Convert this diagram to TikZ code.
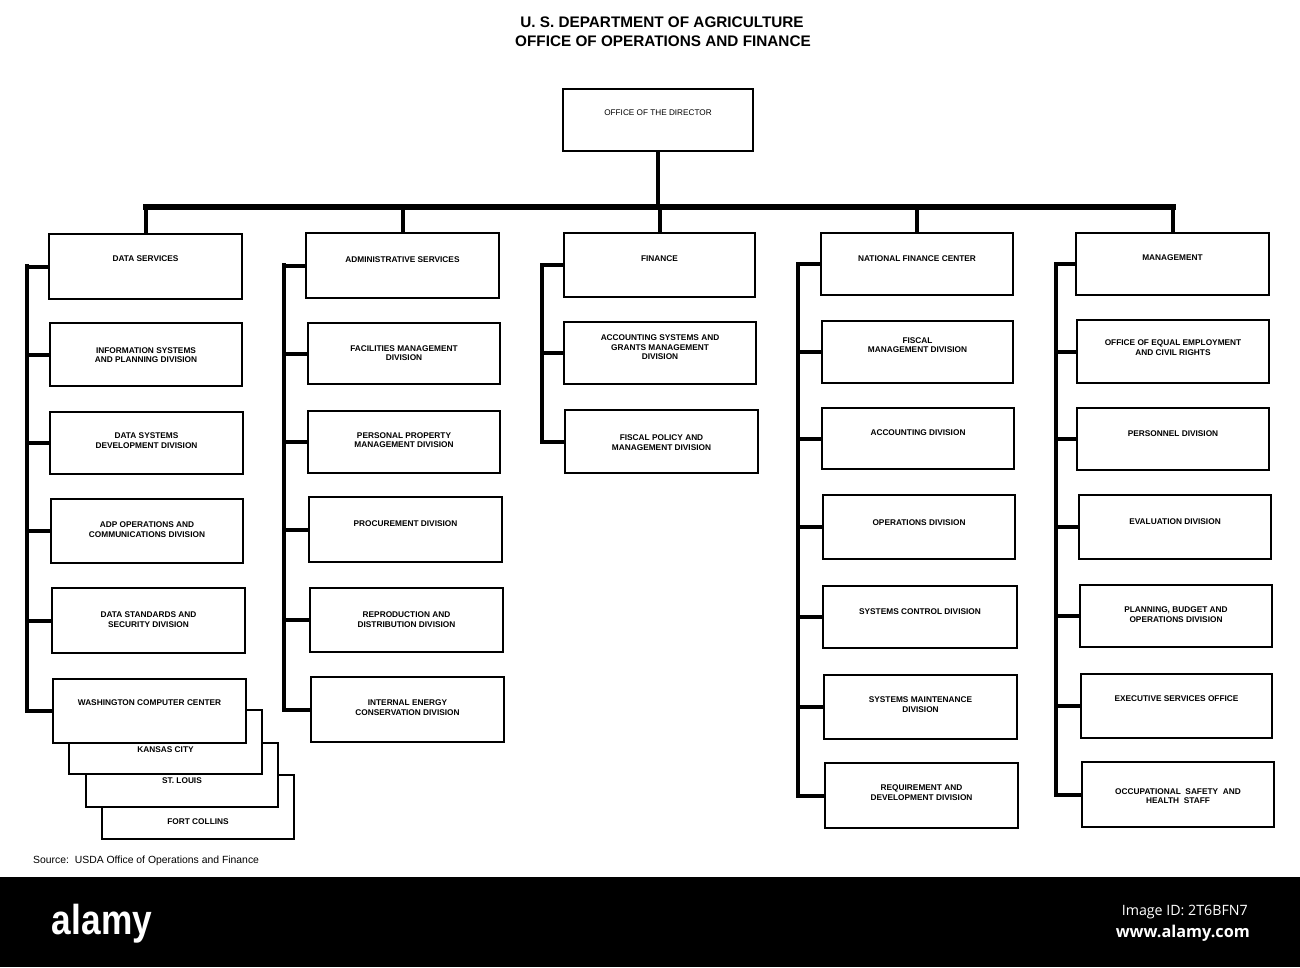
\documentclass[tikz,border=0pt]{standalone}
\usepackage{fontspec}
\usepackage{graphicx}
\setmainfont{Liberation Sans}
\newfontfamily\wmfont{Open Sans}
\tikzset{
  obox/.style={draw=black, line width=1.7pt, fill=white, rectangle, inner sep=0pt, outer sep=0pt},
  otext/.style={font=\fontsize{8.3}{9.4}\selectfont\bfseries, align=center, inner sep=0pt, text=black},
  colline/.style={line width=4.5pt, line cap=rect},
  stubline/.style={line width=4pt},
  dropline/.style={line width=4pt},
  busline/.style={line width=6pt, line cap=rect},
}
\newcommand\obox[7]{%
  \pgfmathsetmacro\bw{#4-#2}\pgfmathsetmacro\bh{#5-#3}%
  \node[obox, minimum width=\bw pt, minimum height=\bh pt] (#1) at ({(#2+#4)/2},{(#3+#5)/2}) {};
  \node[otext] (#1t) at ({(#2+#4)/2},#7) {#6};
}
\begin{document}
\begin{tikzpicture}[x=1pt,y=-1pt]
\useasboundingbox (0,0) rectangle (1300,967);
\fill[white] (0,0) rectangle (1300,877);
\fill[black] (0,877) rectangle (1300,967);

% titles
\node[font=\fontsize{15.3}{17}\selectfont\bfseries, inner sep=0pt] (title1) at (662,22.5) {U. S. DEPARTMENT OF AGRICULTURE};
\node[font=\fontsize{15.3}{17}\selectfont\bfseries, inner sep=0pt] (title2) at (663,41) {OFFICE OF OPERATIONS AND FINANCE};

% director
\node[obox, minimum width=190pt, minimum height=62pt] (dir) at (658,120) {};
\node[font=\fontsize{8.2}{9}\selectfont, inner sep=0pt] (dirt) at (658,113) {OFFICE OF THE DIRECTOR};
\coordinate (bus) at (658,207);

% column 1: data services
\obox{fc}{102}{775}{294}{839}{FORT COLLINS}{822}
\obox{stl}{86}{743}{278}{807}{ST. LOUIS}{781}
\obox{kc}{69}{710}{262}{774}{KANSAS CITY}{750}
\obox{ds}{49}{234}{242}{299}{DATA SERVICES}{259}
\obox{dsa}{50}{323}{242}{386}{INFORMATION SYSTEMS\\AND PLANNING DIVISION}{355}
\obox{dsb}{50}{412}{243}{474}{DATA SYSTEMS\\DEVELOPMENT DIVISION}{440.5}
\obox{dsc}{51}{499}{243}{563}{ADP OPERATIONS AND\\COMMUNICATIONS DIVISION}{529.5}
\obox{dsd}{52}{588}{245}{653}{DATA STANDARDS AND\\SECURITY DIVISION}{619.5}
\obox{dse}{53}{679}{246}{743}{WASHINGTON COMPUTER CENTER}{703}

% column 2: administrative services
\obox{as}{306}{233}{499}{298}{ADMINISTRATIVE SERVICES}{260}
\obox{asa}{308}{323}{500}{384}{FACILITIES MANAGEMENT\\DIVISION}{353}
\obox{asb}{308}{411}{500}{473}{PERSONAL PROPERTY\\MANAGEMENT DIVISION}{440}
\obox{asc}{309}{497}{502}{562}{PROCUREMENT DIVISION}{524}
\obox{asd}{310}{588}{503}{652}{REPRODUCTION AND\\DISTRIBUTION DIVISION}{619.5}
\obox{ase}{311}{677}{504}{742}{INTERNAL ENERGY\\CONSERVATION DIVISION}{707.5}

% column 3: finance
\obox{fi}{564}{233}{755}{297}{FINANCE}{259}
\obox{fia}{564}{322}{756}{384}{ACCOUNTING SYSTEMS AND\\GRANTS MANAGEMENT\\DIVISION}{347.5}
\obox{fib}{565}{410}{758}{473}{FISCAL POLICY AND\\MANAGEMENT DIVISION}{442.5}

% column 4: national finance center
\obox{nf}{821}{233}{1013}{295}{NATIONAL FINANCE CENTER}{259}
\obox{nfa}{822}{321}{1013}{383}{FISCAL\\MANAGEMENT DIVISION}{345}
\obox{nfb}{822}{408}{1014}{469}{ACCOUNTING DIVISION}{433}
\obox{nfc}{823}{495}{1015}{559}{OPERATIONS DIVISION}{523}
\obox{nfd}{823}{586}{1017}{648}{SYSTEMS CONTROL DIVISION}{612}
\obox{nfe}{824}{675}{1017}{739}{SYSTEMS MAINTENANCE\\DIVISION}{704.5}
\obox{nff}{825}{763}{1018}{828}{REQUIREMENT AND\\DEVELOPMENT DIVISION}{792.5}

% column 5: management
\obox{mg}{1076}{233}{1269}{295}{MANAGEMENT}{258}
\obox{mga}{1077}{320}{1269}{383}{OFFICE OF EQUAL EMPLOYMENT\\AND CIVIL RIGHTS}{347.5}
\obox{mgb}{1077}{408}{1269}{470}{PERSONNEL DIVISION}{434}
\obox{mgc}{1079}{495}{1271}{559}{EVALUATION DIVISION}{522}
\obox{mgd}{1080}{585}{1272}{647}{PLANNING, BUDGET AND\\OPERATIONS DIVISION}{614.5}
\obox{mge}{1081}{674}{1272}{738}{EXECUTIVE SERVICES OFFICE}{699}
\obox{mgf}{1082}{762}{1274}{827}{OCCUPATIONAL\ \ SAFETY\ \ AND\\HEALTH\ \ STAFF}{796}

% bus and drops
\draw[busline] (ds.north |- bus) -- (mg.north |- bus);
\draw[dropline] (dir.south) -- (dir.south |- bus);
\foreach \b in {ds,as,fi,nf,mg} {
  \draw[dropline] (\b.north) -- (\b.north |- bus);
}

% column spines
\coordinate (dsx) at (27,0);
\coordinate (asx) at (284,0);
\coordinate (fix) at (542,0);
\coordinate (nfx) at (798,0);
\coordinate (mgx) at (1056,0);
\draw[colline] (ds.west -| dsx) -- (dse.west -| dsx);
\draw[colline] (as.west -| asx) -- (ase.west -| asx);
\draw[colline] (fi.west -| fix) -- (fib.west -| fix);
\draw[colline] (nf.west -| nfx) -- (nff.west -| nfx);
\draw[colline] (mg.west -| mgx) -- (mgf.west -| mgx);
\foreach \b in {ds,dsa,dsb,dsc,dsd,dse} { \draw[stubline] (\b.west) -- (\b.west -| dsx); }
\foreach \b in {as,asa,asb,asc,asd,ase} { \draw[stubline] (\b.west) -- (\b.west -| asx); }
\foreach \b in {fi,fia,fib} { \draw[stubline] (\b.west) -- (\b.west -| fix); }
\foreach \b in {nf,nfa,nfb,nfc,nfd,nfe,nff} { \draw[stubline] (\b.west) -- (\b.west -| nfx); }
\foreach \b in {mg,mga,mgb,mgc,mgd,mge,mgf} { \draw[stubline] (\b.west) -- (\b.west -| mgx); }

% source
\node[anchor=base west, font=\fontsize{10.4}{12}\selectfont, inner sep=0pt] (src) at (33,863) {Source:\ \ USDA Office of Operations and Finance};

% watermark band
\node[inner sep=0pt, text=white] (alamy) at (102,923.5) {\resizebox*{100pt}{39pt}{\bfseries alamy}};
\node[anchor=base east, inner sep=0pt, text=white] (imgid) at (1248,915) {\resizebox{126pt}{!}{\wmfont Image ID: 2T6BFN7}};
\node[anchor=base east, inner sep=0pt, text=white] (www) at (1250,937) {\resizebox{134pt}{!}{\wmfont\bfseries www.alamy.com}};
\end{tikzpicture}
\end{document}
